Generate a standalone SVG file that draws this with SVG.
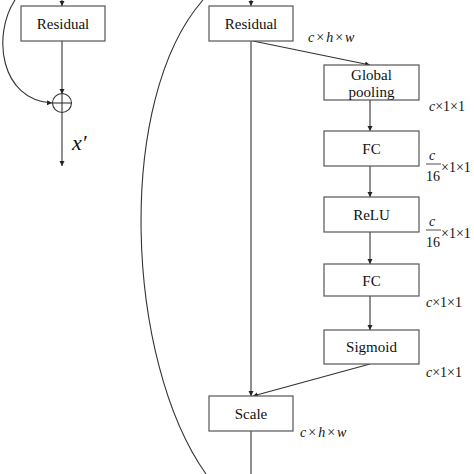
<svg xmlns="http://www.w3.org/2000/svg" width="474" height="474" viewBox="0 0 474 474">
<defs>
<marker id="ah" markerWidth="6" markerHeight="6" refX="5" refY="3" orient="auto" markerUnits="userSpaceOnUse">
<path d="M0,0.5 L5,3 L0,5.5 z" fill="#222"/>
</marker>
<style>
.box{fill:#fff;stroke:#555;stroke-width:1.2}
.t{font-family:"Liberation Serif","Times New Roman",serif;font-size:15px;fill:#111;text-anchor:middle}
.lb{font-family:"Liberation Serif","Times New Roman",serif;font-size:14px;fill:#111}
.ln{fill:none;stroke:#333;stroke-width:1.1}
</style>
</defs>
<rect width="474" height="474" fill="#fff"/>
<g id="connectors">
<line class="ln" x1="62" y1="0" x2="62" y2="6" marker-end="url(#ah)"/>
<line class="ln" x1="62" y1="41" x2="62" y2="94" marker-end="url(#ah)"/>
<path class="ln" d="M15,0 C-8,35 0,100 52,103" marker-end="url(#ah)"/>
<line class="ln" x1="62" y1="113" x2="62" y2="166" marker-end="url(#ah)"/>
<path class="ln" d="M203,0 C115,100 125,360 206,474"/>
<line class="ln" x1="251" y1="0" x2="251" y2="6" marker-end="url(#ah)"/>
<line class="ln" x1="251" y1="41" x2="251" y2="396" marker-end="url(#ah)"/>
<line class="ln" x1="253" y1="41" x2="370" y2="65" marker-end="url(#ah)"/>
<line class="ln" x1="370" y1="100" x2="370" y2="131" marker-end="url(#ah)"/>
<line class="ln" x1="370" y1="166" x2="370" y2="197" marker-end="url(#ah)"/>
<line class="ln" x1="370" y1="232" x2="370" y2="264" marker-end="url(#ah)"/>
<line class="ln" x1="370" y1="296" x2="370" y2="330" marker-end="url(#ah)"/>
<line class="ln" x1="370" y1="364" x2="253" y2="396" marker-end="url(#ah)"/>
<line class="ln" x1="251" y1="431" x2="251" y2="474"/>
</g>
<g id="residual-left">
<rect class="box" x="21" y="6" width="84" height="35"/>
<text class="t" x="63" y="28.5">Residual</text>
</g>
<g id="sum">
<circle cx="62" cy="103" r="9.5" fill="#fff" stroke="#333" stroke-width="1.1"/>
<line class="ln" x1="52.5" y1="103" x2="71.5" y2="103"/>
<line class="ln" x1="62" y1="93.5" x2="62" y2="112.5"/>
</g>
<g id="xprime">
<text x="72" y="150" font-family="'Liberation Serif', 'Times New Roman', serif" font-size="22" font-style="italic" fill="#111">x′</text>
</g>
<g id="residual">
<rect class="box" x="209" y="6" width="84" height="35"/>
<text class="t" x="251" y="28.5">Residual</text>
</g>
<g id="global-pooling">
<rect class="box" x="324" y="65" width="95" height="35"/>
<text class="t" x="371.5" y="80">Global</text>
<text class="t" x="371.5" y="97">pooling</text>
</g>
<g id="fc1">
<rect class="box" x="324" y="131" width="95" height="35"/>
<text class="t" x="371.5" y="153.5">FC</text>
</g>
<g id="relu">
<rect class="box" x="324" y="197" width="95" height="35"/>
<text class="t" x="371.5" y="219.5">ReLU</text>
</g>
<g id="fc2">
<rect class="box" x="324" y="264" width="95" height="32"/>
<text class="t" x="371.5" y="285.5">FC</text>
</g>
<g id="sigmoid">
<rect class="box" x="324" y="330" width="95" height="34"/>
<text class="t" x="371.5" y="352">Sigmoid</text>
</g>
<g id="scale">
<rect class="box" x="209" y="396" width="84" height="35"/>
<text class="t" x="251" y="418.5">Scale</text>
</g>
<g id="labels">
<text class="lb" x="308" y="42"><tspan font-style="italic">c</tspan><tspan dx="2">×</tspan><tspan dx="2" font-style="italic">h</tspan><tspan dx="2">×</tspan><tspan dx="2" font-style="italic">w</tspan></text>
<text class="lb" x="429" y="111"><tspan font-style="italic">c</tspan>×1×1</text>
<text class="lb" x="429" y="160" font-style="italic">c</text>
<line x1="426" y1="164" x2="441" y2="164" stroke="#222" stroke-width="0.8"/>
<text class="lb" x="426" y="181">16</text>
<text class="lb" x="441" y="172">×1×1</text>
<text class="lb" x="429" y="226" font-style="italic">c</text>
<line x1="426" y1="230" x2="441" y2="230" stroke="#222" stroke-width="0.8"/>
<text class="lb" x="426" y="247">16</text>
<text class="lb" x="441" y="238">×1×1</text>
<text class="lb" x="426" y="307"><tspan font-style="italic">c</tspan>×1×1</text>
<text class="lb" x="426" y="377"><tspan font-style="italic">c</tspan>×1×1</text>
<text class="lb" x="300" y="437"><tspan font-style="italic">c</tspan><tspan dx="2">×</tspan><tspan dx="2" font-style="italic">h</tspan><tspan dx="2">×</tspan><tspan dx="2" font-style="italic">w</tspan></text>
</g>
</svg>
